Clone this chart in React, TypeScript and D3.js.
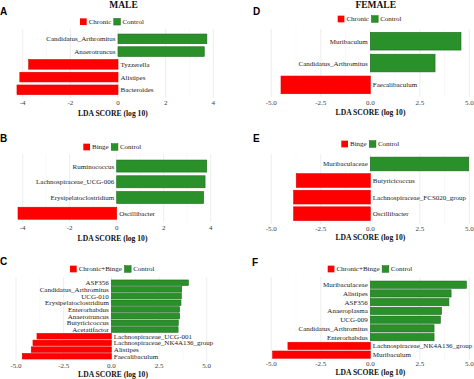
import React, { useEffect, useRef } from "react";
import * as d3 from "d3";

// ---------- data ----------
const maleChronicTaxa = ["Candidatus_Arthromitus", "Anaerotruncus", "Tyzzerella", "Alistipes", "Bacteroides"];
const maleChronicLDA = [3.73, 3.62, -3.75, -4.12, -4.24];

const maleBingeTaxa = ["Ruminococcus", "Lachnospiraceae_UCG-006", "Erysipelatoclostridium", "Oscillibacter"];
const maleBingeLDA = [3.83, 3.76, 3.7, -4.2];

const maleCBTaxa = [
  "ASF356", "Candidatus_Arthromitus", "UCG-010", "Erysipelatoclostridium", "Enterorhabdus",
  "Anaerotruncus", "Butyricicoccus", "Acetatifactor", "Lachnospiraceae_UCG-001",
  "Lachnospiraceae_NK4A136_group", "Alistipes", "Faecalibaculum",
];
const maleCBLDA = [4.04, 3.69, 3.67, 3.65, 3.58, 3.58, 3.51, 3.5, -3.9, -4.11, -4.2, -4.67];

const femaleChronicTaxa = ["Muribaculum", "Candidatus_Arthromitus", "Faecalibaculum"];
const femaleChronicLDA = [4.58, 3.27, -4.51];

const femaleBingeTaxa = ["Muribaculaceae", "Butyricicoccus", "Lachnospiraceae_FCS020_group", "Oscillibacter"];
const femaleBingeLDA = [4.97, -3.74, -3.87, -3.87];

const femaleCBTaxa = [
  "Muribaculaceae", "Alistipes", "ASF356", "Anaeroplasma", "UCG-009", "Candidatus_Arthromitus",
  "Enterorhabdus", "Lachnospiraceae_NK4A136_group", "Muribaculum",
];
const femaleCBLDA = [4.85, 4.08, 3.97, 3.6, 3.54, 3.22, 3.22, -4.16, -4.93];

const ticks4 = [-4, -2, 0, 2, 4];
const ticks5 = [-5, -2.5, 0, 2.5, 5];
const minor4 = [-3, -1, 1, 3];
const minor5 = [-3.75, -1.25, 1.25, 3.75];

const columnTitles = ["MALE", "FEMALE"];
const axisTitle = "LDA SCORE (log 10)";

// ---------- layout ----------
const W = 474;
const H = 379;
const RED = "#ff0000";
const GREEN = "#2a902a";
const SERIF = "'Liberation Serif', 'Times New Roman', serif";
const SANS = "'Liberation Sans', Arial, sans-serif";

type Panel = {
  letter: string; taxa: string[]; values: number[]; group: string;
  ticks: number[]; minor: number[]; dec: number; dom: [number, number];
  x0: number; x1: number; bandTop: number; bandBot: number; pad: number;
  gridTop: number; gridBot: number; tickY: number; titleX: number; titleY: number;
  legendX: number; legendY: number; letterX: number; letterY: number;
};

const panels: Panel[] = [
  { letter: "A", taxa: maleChronicTaxa, values: maleChronicLDA, group: "Chronic", ticks: ticks4, minor: minor4, dec: 0, dom: [-4, 4],
    x0: 22.7, x1: 213.3, bandTop: 32.5, bandBot: 96.2, pad: 0.24, gridTop: 29, gridBot: 98, tickY: 103, titleX: 112.8, titleY: 113.3,
    legendX: 80, legendY: 21.7, letterX: 0, letterY: 15 },
  { letter: "B", taxa: maleBingeTaxa, values: maleBingeLDA, group: "Binge", ticks: ticks4, minor: minor4, dec: 0, dom: [-4, 4],
    x0: 22.7, x1: 210.7, bandTop: 158.2, bandBot: 221.1, pad: 0.235, gridTop: 154, gridBot: 222, tickY: 228, titleX: 112.5, titleY: 238.3,
    legendX: 83.3, legendY: 147, letterX: 0, letterY: 142 },
  { letter: "C", taxa: maleCBTaxa, values: maleCBLDA, group: "Chronic+Binge", ticks: ticks5, minor: minor5, dec: 1, dom: [-5, 5],
    x0: 16, x1: 206.7, bandTop: 279.4, bandBot: 359.6, pad: 0.17, gridTop: 277, gridBot: 361, tickY: 365.7, titleX: 113, titleY: 374.3,
    legendX: 70, legendY: 269, letterX: 0, letterY: 265 },
  { letter: "D", taxa: femaleChronicTaxa, values: femaleChronicLDA, group: "Chronic", ticks: ticks5, minor: minor5, dec: 1, dom: [-5, 5],
    x0: 271.3, x1: 469.3, bandTop: 30.3, bandBot: 95.8, pad: 0.19, gridTop: 29, gridBot: 97, tickY: 103, titleX: 370.5, titleY: 112.7,
    legendX: 337.7, legendY: 19, letterX: 253, letterY: 15 },
  { letter: "E", taxa: femaleBingeTaxa, values: femaleBingeLDA, group: "Binge", ticks: ticks5, minor: minor5, dec: 1, dom: [-5, 5],
    x0: 271.3, x1: 469.3, bandTop: 155.7, bandBot: 222, pad: 0.17, gridTop: 154, gridBot: 224, tickY: 229, titleX: 370.3, titleY: 237.7,
    legendX: 341.3, legendY: 144, letterX: 253, letterY: 142 },
  { letter: "F", taxa: femaleCBTaxa, values: femaleCBLDA, group: "Chronic+Binge", ticks: ticks5, minor: minor5, dec: 1, dom: [-5, 5],
    x0: 271.3, x1: 469.3, bandTop: 280.3, bandBot: 359, pad: 0.17, gridTop: 277, gridBot: 360, tickY: 363.3, titleX: 370.3, titleY: 372.7,
    legendX: 327.7, legendY: 269, letterX: 252, letterY: 266 },
];

export default function App() {
  const ref = useRef<SVGSVGElement | null>(null);

  useEffect(() => {
    const svg = d3.select(ref.current);
    svg.selectAll("*").remove();

    svg.append("rect").attr("width", W).attr("height", H).attr("fill", "#fff");

    // column titles
    [123.5, 375.7].forEach((cx, i) => {
      svg.append("text").attr("x", cx).attr("y", 8.2)
        .attr("text-anchor", "middle").attr("font-family", SERIF).attr("font-weight", "bold")
        .attr("font-size", 9.5).attr("fill", "#111").text(columnTitles[i]);
    });

    panels.forEach((p) => {
      const g = svg.append("g");
      const x = d3.scaleLinear().domain(p.dom).range([p.x0, p.x1]);
      const y = d3.scaleBand<string>().domain(p.taxa).range([p.bandTop, p.bandBot])
        .paddingInner(p.pad).paddingOuter(p.pad / 2);

      // grid
      g.selectAll("line.minor").data(p.minor).enter().append("line")
        .attr("x1", (d) => x(d)).attr("x2", (d) => x(d))
        .attr("y1", p.gridTop).attr("y2", p.gridBot)
        .attr("stroke", "#f2f2f2").attr("stroke-width", 0.5);
      g.selectAll("line.major").data(p.ticks).enter().append("line")
        .attr("x1", (d) => x(d)).attr("x2", (d) => x(d))
        .attr("y1", p.gridTop).attr("y2", p.gridBot)
        .attr("stroke", "#e8e8e8").attr("stroke-width", 0.8);

      // bars
      const data = p.taxa.map((t, i) => ({ t, v: p.values[i] }));
      g.selectAll("rect.bar").data(data).enter().append("rect")
        .attr("x", (d) => x(Math.min(0, d.v)))
        .attr("width", (d) => Math.abs(x(d.v) - x(0)))
        .attr("y", (d) => y(d.t)!)
        .attr("height", y.bandwidth())
        .attr("fill", (d) => (d.v > 0 ? GREEN : RED))
        .attr("stroke", (d) => (d.v > 0 ? "#1c6a1c" : "#e00000"))
        .attr("stroke-width", 0.6);

      // taxa labels
      g.selectAll("text.lab").data(data).enter().append("text")
        .attr("x", (d) => (d.v > 0 ? x(0) - 2.5 : x(0) + 2.5))
        .attr("y", (d) => y(d.t)! + y.bandwidth() / 2)
        .attr("dy", "0.35em")
        .attr("text-anchor", (d) => (d.v > 0 ? "end" : "start"))
        .attr("font-family", SERIF).attr("font-size", 7).attr("fill", "#1a1a1a")
        .text((d) => d.t);

      // tick labels
      g.selectAll("text.tick").data(p.ticks).enter().append("text")
        .attr("x", (d) => x(d)).attr("y", p.tickY).attr("dy", "0.35em")
        .attr("text-anchor", "middle").attr("font-family", SERIF).attr("font-size", 7)
        .attr("fill", "#3d3d3d")
        .text((d) => d3.format(p.dec ? ".1f" : "d")(d).replace("−", "-"));

      // axis title
      g.append("text").attr("x", p.titleX).attr("y", p.titleY).attr("dy", "0.35em")
        .attr("text-anchor", "middle").attr("font-family", SERIF).attr("font-weight", "bold")
        .attr("font-size", 7.6).attr("fill", "#111").text(axisTitle);

      // legend
      const sq = 6.7;
      const lg = g.append("g");
      lg.append("rect").attr("x", p.legendX).attr("y", p.legendY - sq / 2).attr("width", sq).attr("height", sq).attr("fill", RED);
      const t1 = lg.append("text").attr("x", p.legendX + sq + 2).attr("y", p.legendY).attr("dy", "0.35em")
        .attr("font-family", SERIF).attr("font-size", 7).attr("fill", "#1a1a1a").text(p.group);
      const w1 = (t1.node() as SVGTextElement).getComputedTextLength();
      const gx = p.legendX + sq + 2 + w1 + 2.5;
      lg.append("rect").attr("x", gx).attr("y", p.legendY - sq / 2).attr("width", sq).attr("height", sq)
        .attr("fill", GREEN).attr("stroke", "#1c6a1c").attr("stroke-width", 0.5);
      lg.append("text").attr("x", gx + sq + 2).attr("y", p.legendY).attr("dy", "0.35em")
        .attr("font-family", SERIF).attr("font-size", 7).attr("fill", "#1a1a1a").text("Control");

      // panel letter
      g.append("text").attr("x", p.letterX).attr("y", p.letterY)
        .attr("font-family", SANS).attr("font-weight", "bold").attr("font-size", 10)
        .attr("fill", "#000").text(p.letter);
    });
  }, []);

  return (
    <svg ref={ref} width={W} height={H}
      style={{ position: "absolute", left: 0, top: 0, display: "block" }} />
  );
}
